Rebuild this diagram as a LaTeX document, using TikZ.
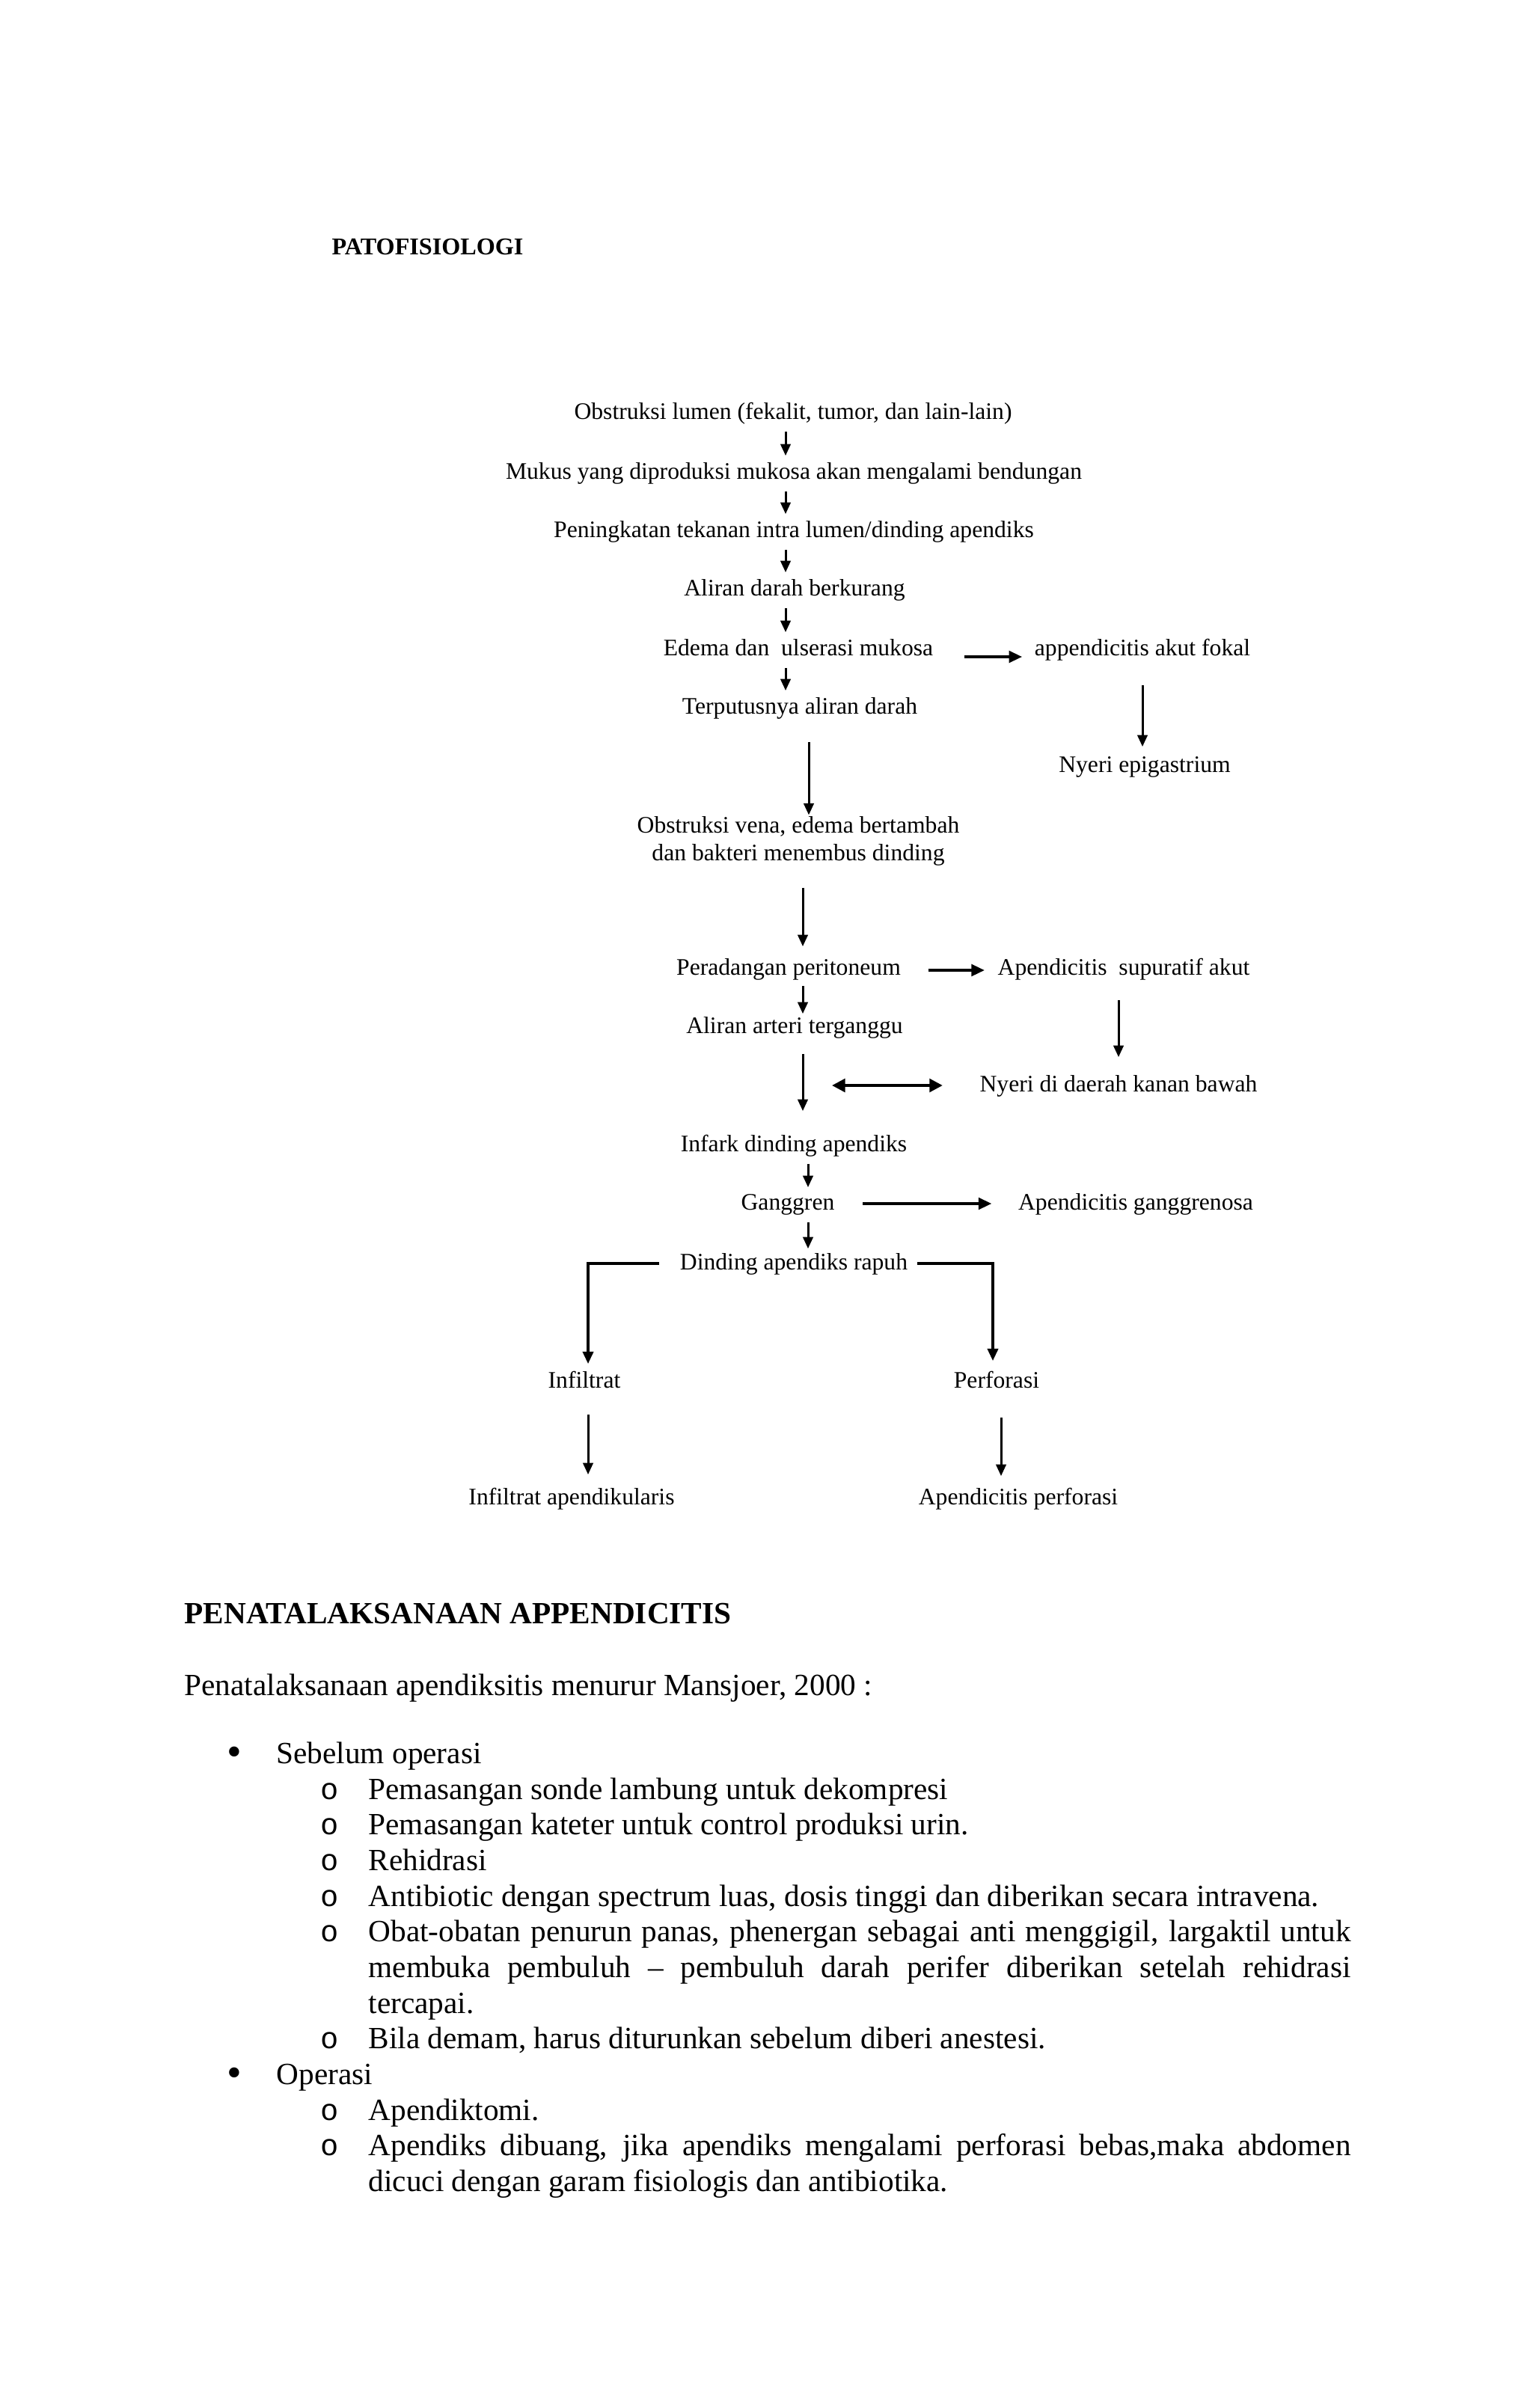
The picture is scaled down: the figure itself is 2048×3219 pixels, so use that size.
\documentclass[tikz,border=0pt]{standalone}
\usepackage{fontspec}
\setmainfont{Liberation Serif}
\newfontfamily\monofnt{Liberation Mono}
\usetikzlibrary{arrows.meta}
\begin{document}
\begin{tikzpicture}[x=0.01cm,y=-0.01cm,
  fc/.style={inner sep=0pt, font=\fontsize{9pt}{10.5pt}\selectfont, text height=0.7em, text depth=0.22em},
  fc2/.style={inner sep=0pt, align=center, font=\fontsize{9pt}{10.5pt}\selectfont},
  arr/.style={line width=0.85pt, -{Triangle[length=4.4pt,width=3.8pt]}},
  tarr/.style={line width=1.1pt, -{Triangle[length=5pt,width=4.4pt]}},
  darr/.style={line width=1.1pt, {Triangle[length=5pt,width=5pt]}-{Triangle[length=5pt,width=5pt]}},
  brk/.style={line width=1pt, -{Triangle[length=4.6pt,width=4pt]}},
  body/.style={inner sep=0pt, anchor=base west, font=\fontsize{11.73pt}{14pt}\selectfont},
  bul/.style={inner sep=0pt, anchor=center, font=\fontsize{16pt}{16pt}\selectfont},
  sbul/.style={inner sep=0pt, anchor=base, font=\fontsize{11.5pt}{14pt}\monofnt},
]
\fill[white] (0,0) rectangle (2048,3219);
\useasboundingbox (0,0) rectangle (2048,3219);

% ---------- flowchart ----------
\node[inner sep=0pt, anchor=west, font=\fontsize{9.15pt}{10.5pt}\selectfont\bfseries] (title) at (443,330) {PATOFISIOLOGI};

\node[fc] (n1) at (1060,552) {Obstruksi lumen (fekalit, tumor, dan lain-lain)};
\node[fc] (n2) at (1061,632) {Mukus yang diproduksi mukosa akan mengalami bendungan};
\node[fc] (n3) at (1061,710) {Peningkatan tekanan intra lumen/dinding apendiks};
\node[fc] (n4) at (1062,788) {Aliran darah berkurang};
\node[fc] (n5) at (1067,868) {Edema dan\ \ ulserasi mukosa};
\node[fc] (r1) at (1527,868) {appendicitis akut fokal};
\node[fc] (n6) at (1069,946) {Terputusnya aliran darah};
\node[fc] (r2) at (1530,1024) {Nyeri epigastrium};
\node[fc2] (n7) at (1067,1124) {Obstruksi vena, edema bertambah\\dan bakteri menembus dinding};
\node[fc] (n8) at (1054,1295) {Peradangan peritoneum};
\node[fc] (r3) at (1502,1295) {Apendicitis\ \ supuratif akut};
\node[fc] (n9) at (1062,1373) {Aliran arteri terganggu};
\node[fc] (r4) at (1495,1451) {Nyeri di daerah kanan bawah};
\node[fc] (n10) at (1061,1531) {Infark dinding apendiks};
\node[fc] (n11) at (1053,1609) {Ganggren};
\node[fc] (r5) at (1518,1609) {Apendicitis ganggrenosa};
\node[fc] (n12) at (1061,1689) {Dinding apendiks rapuh};
\node[fc] (l1) at (781,1847) {Infiltrat};
\node[fc] (l2) at (764,2003) {Infiltrat apendikularis};
\node[fc] (p1) at (1332,1847) {Perforasi};
\node[fc] (p2) at (1361,2003) {Apendicitis perforasi};

\coordinate (xa) at (1050,0);
\coordinate (xb) at (1081,0);
\coordinate (xc) at (1073,0);
\coordinate (xd) at (1080,0);

\draw[arr, shorten <=0.8mm, shorten >=0.6mm] (n1.south -| xa) -- (n2.north -| xa);
\draw[arr, shorten <=0.8mm, shorten >=0.6mm] (n2.south -| xa) -- (n3.north -| xa);
\draw[arr, shorten <=0.8mm, shorten >=0.6mm] (n3.south -| xa) -- (n4.north -| xa);
\draw[arr, shorten <=0.8mm, shorten >=0.6mm] (n4.south -| xa) -- (n5.north -| xa);
\draw[arr, shorten <=0.8mm, shorten >=0.6mm] (n5.south -| xa) -- (n6.north -| xa);
\draw[arr, shorten <=2.9mm, shorten >=0.1mm] (n6.south -| xb) -- (n7.north -| xb);
\draw[arr, shorten <=2.9mm, shorten >=1.3mm] (n7.south -| xc) -- (n8.north -| xc);
\draw[arr, shorten <=0.6mm, shorten >=0.1mm] (n8.south -| xc) -- (n9.north -| xc);
\coordinate (im) at (n9.south -| xc);
\draw[arr, shorten <=1.9mm, shorten >=2.9mm] (im) -- (n10.north -| xc);
\draw[arr, shorten <=0.8mm, shorten >=0.5mm] (n10.south -| xd) -- (n11.north -| xd);
\draw[arr, shorten <=0.8mm, shorten >=0.3mm] (n11.south -| xd) -- (n12.north -| xd);

% side branches
\draw[tarr, shorten <=4.1mm, shorten >=1.6mm] ([yshift=-1mm]n5.east) -- ([yshift=-1mm]r1.west);
\draw[arr, shorten <=3.1mm, shorten >=0.9mm] (r1.south) -- (r1.south |- r2.north);
\draw[tarr, shorten <=3.6mm, shorten >=1.7mm] ([yshift=-0.2mm]n8.east) -- ([yshift=-0.2mm]r3.west);
\draw[arr, shorten <=2.5mm, shorten >=2.1mm] (r3.south -| r4.north) -- (r4.north);
\coordinate (dm) at (1073,1451);
\draw[darr, shorten <=3.9mm, shorten >=4.9mm] (dm) -- (r4.west);
\draw[tarr, shorten <=3.7mm, shorten >=3.5mm] (n11.east) -- (r5.west);

% split
\draw[brk] ([xshift=-2.7mm]n12.west) -| ([xshift=0.5mm,yshift=0.7mm]l1.north);
\draw[brk] ([xshift=1.2mm]n12.east) -| ([xshift=-0.5mm,yshift=1.1mm]p1.north);
\draw[arr, shorten <=2.7mm, shorten >=1.5mm] ([xshift=0.5mm]l1.south) -- ([xshift=0.5mm]l1.south |- l2.north);
\draw[arr, shorten <=3.1mm, shorten >=1.3mm] ([xshift=0.6mm]p1.south) -- ([xshift=0.6mm]p1.south |- p2.north);

% ---------- text section ----------
\node[body, font=\fontsize{11.73pt}{14pt}\selectfont\bfseries] (h1) at (246,2170) {PENATALAKSANAAN APPENDICITIS};
\node[body] (t0) at (246,2266) {Penatalaksanaan apendiksitis menurur Mansjoer, 2000 :};

\node[bul] (b1) at (313,2348) {•};
\node[body] (s1) at (369,2357) {Sebelum operasi};
\node[sbul] (o1) at (441,2405) {o};
\node[body] (s11) at (492,2405) {Pemasangan sonde lambung untuk dekompresi};
\node[sbul] (o2) at (441,2452) {o};
\node[body] (s12) at (492,2452) {Pemasangan kateter untuk control produksi urin.};
\node[sbul] (o3) at (441,2500) {o};
\node[body] (s13) at (492,2500) {Rehidrasi};
\node[sbul] (o4) at (441,2548) {o};
\node[body] (s14) at (492,2548) {Antibiotic dengan spectrum luas, dosis tinggi dan diberikan secara intravena.};
\node[sbul] (o5) at (441,2595) {o};
\node[body] (s15a) at (492,2595) {\makebox[13.12cm][s]{Obat-obatan penurun panas, phenergan sebagai anti menggigil, largaktil untuk}};
\node[body] (s15b) at (492,2643) {\makebox[13.12cm][s]{membuka pembuluh – pembuluh darah perifer diberikan setelah rehidrasi}};
\node[body] (s15c) at (492,2691) {tercapai.};
\node[sbul] (o6) at (441,2738) {o};
\node[body] (s16) at (492,2738) {Bila demam, harus diturunkan sebelum diberi anestesi.};

\node[bul] (b2) at (313,2777) {•};
\node[body] (s2) at (369,2786) {Operasi};
\node[sbul] (o7) at (441,2834) {o};
\node[body] (s21) at (492,2834) {Apendiktomi.};
\node[sbul] (o8) at (441,2881) {o};
\node[body] (s22a) at (492,2881) {\makebox[13.12cm][s]{Apendiks dibuang, jika apendiks mengalami perforasi bebas,maka abdomen}};
\node[body] (s22b) at (492,2929) {dicuci dengan garam fisiologis dan antibiotika.};
\end{tikzpicture}
\end{document}
